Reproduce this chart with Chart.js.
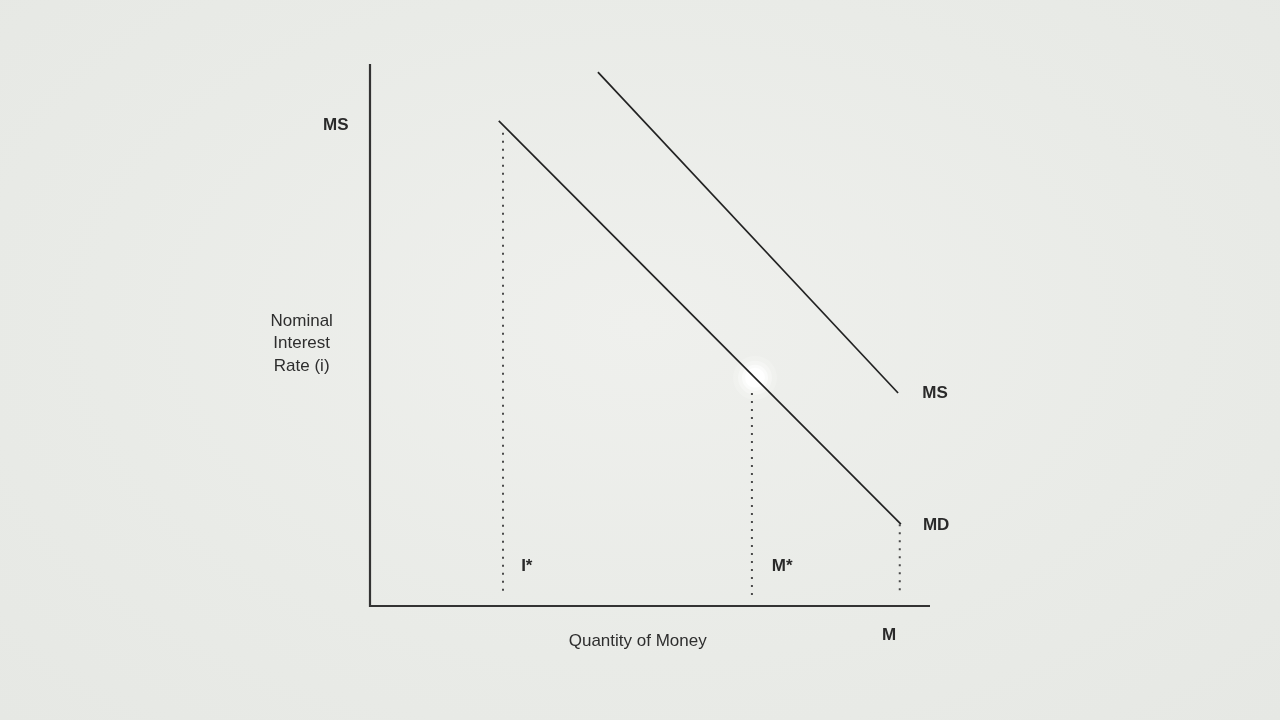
<!DOCTYPE html>
<html>
<head>
<meta charset="utf-8">
<script src="https://cdn.jsdelivr.net/npm/chart.js@4"></script>
<style>
  html, body { margin: 0; padding: 0; }
  body {
    width: 1280px; height: 720px; overflow: hidden;
    background: radial-gradient(ellipse at 50% 45%, #eff0ed 0%, #e9ebe7 60%, #e6e8e4 100%);
  }
  #wrap { position: absolute; left: 0; top: 0; width: 1280px; height: 720px; }
</style>
</head>
<body>
<div id="wrap"><canvas id="chartCanvas" width="1280" height="720"></canvas></div>
<script>
// quantity of money (x) vs nominal interest rate (y), both on a 0-100 scale
const mdX = [23.0, 94.8];
const mdY = [89.5, 15.1];
const msX = [40.7, 94.3];
const msY = [98.5, 39.3];

// dotted drop lines: x position, top, bottom
const dropX = [23.75, 68.2, 94.6];
const dropTop = [87.3, 39.3, 15.1];
const dropBottom = 2.0;

// equilibrium glow
const eqX = 68.75;
const eqY = 42.1;

// curve / point labels
const labelText = ['MS', 'MS', 'MD', 'I*', 'M*', 'M'];
const labelX = [-6.1, 100.9, 101.1, 28.0, 73.6, 92.7];
const labelY = [88.7, 39.3, 14.9, 7.4, 7.4, -5.5];

const yTitle = ['Nominal', 'Interest', 'Rate (i)'];
const xTitle = 'Quantity of Money';

const ctx = document.getElementById('chartCanvas').getContext('2d');

const pts = (xs, ys) => xs.map((x, i) => ({ x: x, y: ys[i] }));

const datasets = [];

// axes
datasets.push({ data: [{ x: 0, y: 100 }, { x: 0, y: 0 }, { x: 100, y: 0 }],
  showLine: true, borderColor: '#333', borderWidth: 2.2, pointRadius: 0, tension: 0,
  clip: false, borderJoinStyle: 'miter' });

// drop lines
dropX.forEach((x, i) => {
  datasets.push({ data: [{ x: x, y: dropTop[i] }, { x: x, y: dropBottom }],
    showLine: true, borderColor: '#4a4a4a', borderWidth: 2, borderDash: [2, 6],
    pointRadius: 0, clip: false });
});

// MD and MS lines
datasets.push({ data: pts(mdX, mdY), showLine: true, borderColor: '#222',
  borderWidth: 1.7, pointRadius: 0, clip: false });
datasets.push({ data: pts(msX, msY), showLine: true, borderColor: '#222',
  borderWidth: 1.7, pointRadius: 0, clip: false });

// glow at equilibrium
[[22, 'rgba(255,255,255,0.18)'], [17, 'rgba(255,255,255,0.3)'], [13, 'rgba(255,255,255,0.55)'],
 [10, 'rgba(255,255,255,0.85)'], [7, '#ffffff']]
  .forEach(([r, c]) => {
    datasets.push({ data: [{ x: eqX, y: eqY }], pointRadius: r, pointBackgroundColor: c,
      pointBorderWidth: 0, showLine: false, clip: false });
  });

const textPlugin = {
  id: 'texts',
  afterDatasetsDraw(chart) {
    const c = chart.ctx;
    const sx = chart.scales.x, sy = chart.scales.y;
    c.save();
    c.fillStyle = '#2a2a2a';
    c.textAlign = 'center';
    c.textBaseline = 'middle';
    c.font = 'bold 17px "Liberation Sans", Arial, sans-serif';
    labelText.forEach((t, i) => {
      c.fillText(t, sx.getPixelForValue(labelX[i]), sy.getPixelForValue(labelY[i]));
    });
    c.font = '17px "Liberation Sans", Arial, sans-serif';
    c.fillStyle = '#2e2e2e';
    const tx = sx.getPixelForValue(-12.2);
    yTitle.forEach((t, i) => {
      c.fillText(t, tx, sy.getPixelForValue(52.6 - i * 4.15));
    });
    c.fillText(xTitle, sx.getPixelForValue(47.8), sy.getPixelForValue(-6.6));
    c.restore();
  }
};

new Chart(ctx, {
  type: 'scatter',
  data: { datasets: datasets },
  options: {
    responsive: false,
    animation: false,
    layout: { padding: { left: 370, right: 350, top: 64, bottom: 114 } },
    plugins: { legend: { display: false }, tooltip: { enabled: false } },
    scales: {
      x: { type: 'linear', min: 0, max: 100, display: false },
      y: { type: 'linear', min: 0, max: 100, display: false }
    }
  },
  plugins: [textPlugin]
});
</script>
</body>
</html>
